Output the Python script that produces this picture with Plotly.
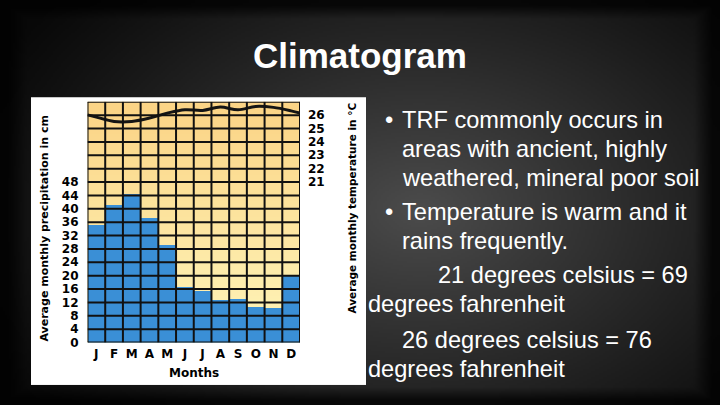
import base64
import struct
import zlib

import numpy as np
import plotly.graph_objects as go

# ---------------- data ----------------
months = ["J", "F", "M", "A", "M", "J", "J", "A", "S", "O", "N", "D"]
precip_cm = [35.2, 41.0, 44.3, 37.3, 29.2, 16.7, 15.3, 12.8, 13.0, 10.5, 10.2, 20.2]
temp_c = [25.85, 25.53, 25.53, 25.78, 26.15, 26.40, 26.35, 26.60, 26.40, 26.65, 26.58, 26.32]
temp_jan_start_c = 26.02
temp_dec_end_c = 26.15
precip_ticks = [0, 4, 8, 12, 16, 20, 24, 28, 32, 36, 40, 44, 48]
temp_ticks = [21, 22, 23, 24, 25, 26]

title_text = "Climatogram"
body_lines = [
    ("•", 383, 119.5),
    ("TRF commonly occurs in", 400, 119.5),
    ("areas with ancient, highly", 400, 148.5),
    ("weathered, mineral poor soil", 400, 178),
    ("•", 383, 211),
    ("Temperature is warm and it", 400, 211),
    ("rains frequently.", 400, 240),
    ("21 degrees celsius = 69", 436, 274),
    ("degrees fahrenheit", 366, 303.5),
    ("26 degrees celsius = 76", 400, 339),
    ("degrees fahrenheit", 366, 368),
]

W, H = 720, 405          # reference picture size (layout positions are read in these pixels)
FIG_H = 413              # page is photographed slightly squeezed vertically
PX0, PX1 = 87.5, 300.0
PY_TOP, PY_BOT = 101.5, 341.7
P_MAX = 72
T_MIN, T_MAX = 9, 27


def px(x):
    return x / W


def py(y):
    return 1 - y / H


def png_data_uri(rgb):
    h, w, _ = rgb.shape
    raw = b"".join(b"\x00" + rgb[i].tobytes() for i in range(h))

    def chunk(t, d):
        c = struct.pack(">I", len(d)) + t + d
        return c + struct.pack(">I", zlib.crc32(t + d) & 0xFFFFFFFF)

    png = (b"\x89PNG\r\n\x1a\n"
           + chunk(b"IHDR", struct.pack(">IIBBBBB", w, h, 8, 2, 0, 0, 0))
           + chunk(b"IDAT", zlib.compress(raw, 9))
           + chunk(b"IEND", b""))
    return "data:image/png;base64," + base64.b64encode(png).decode()


# slide background: dark radial gradient
gw, gh = 360, 203
gx, gy = np.meshgrid(np.linspace(0, W, gw), np.linspace(0, H, gh))
d = np.sqrt(((gx - 420) / 480.0) ** 2 + ((gy - 210) / 330.0) ** 2)
v = 8 + 68 * np.clip(1 - d, 0, 1) ** 1.1
edge = np.minimum.reduce([gx, W - gx, gy * 1.4, (H - gy) * 1.4])
v = v * np.clip(edge / 25.0, 0.25, 1)
slide_img = np.clip(np.stack([v, v, v], axis=-1), 0, 255).astype(np.uint8)

white_img = np.full((2, 2, 3), 255, dtype=np.uint8)

# plot area: orange (top) to pale yellow (bottom)
top_rgb = np.array([251, 212, 134], dtype=float)
bot_rgb = np.array([255, 246, 186], dtype=float)
t = np.linspace(0, 1, 64)[:, None]
grad = (top_rgb * (1 - t) + bot_rgb * t)
grad_img = np.repeat(grad[:, None, :], 2, axis=1).astype(np.uint8)

images = [
    dict(source=png_data_uri(slide_img), xref="paper", yref="paper", x=0, y=1,
         sizex=1, sizey=1, sizing="stretch", xanchor="left", yanchor="top", layer="below"),
    dict(source=png_data_uri(white_img), xref="paper", yref="paper", x=px(31), y=py(97),
         sizex=px(366) - px(31), sizey=py(97) - py(384), sizing="stretch",
         xanchor="left", yanchor="top", layer="below"),
    dict(source=png_data_uri(grad_img), xref="paper", yref="paper", x=px(PX0), y=py(PY_TOP),
         sizex=px(PX1) - px(PX0), sizey=py(PY_TOP) - py(PY_BOT), sizing="stretch",
         xanchor="left", yanchor="top", layer="below"),
]

# ---------------- figure ----------------
idx = list(range(len(months)))
x_lo, x_hi = -0.5, len(months) - 0.5

fig = go.Figure()

fig.add_trace(go.Bar(
    x=idx, y=precip_cm, width=1.0,
    marker=dict(color="#3a8fd6", line=dict(width=0)),
    showlegend=False,
))

temp_x = [x_lo] + idx + [x_hi]
temp_y = [temp_jan_start_c] + temp_c + [temp_dec_end_c]
fig.add_trace(go.Scatter(
    x=temp_x, y=temp_y, yaxis="y2", mode="lines",
    line=dict(color="#141414", width=3, shape="spline", smoothing=1.0),
    showlegend=False,
))

# grid drawn above the bars
shapes = []
for i in range(len(months) + 1):
    xv = x_lo + i
    shapes.append(dict(type="line", xref="x", yref="y", x0=xv, x1=xv, y0=0, y1=P_MAX,
                       line=dict(color="#111111", width=2), layer="above"))
for yv in range(0, P_MAX + 1, 4):
    shapes.append(dict(type="line", xref="x", yref="y", x0=x_lo, x1=x_hi, y0=yv, y1=yv,
                       line=dict(color="#111111", width=2), layer="above"))

tick_font = dict(family="DejaVu Sans", size=12, color="black", weight="bold")

annotations = []
annotations.append(dict(text=title_text, x=0.5, y=py(55), xref="paper", yref="paper",
                        showarrow=False, xanchor="center", yanchor="middle",
                        font=dict(family="Liberation Sans", size=35, color="white", weight="bold")))
for txt, xx, yy in body_lines:
    annotations.append(dict(text=txt, x=px(xx), y=py(yy), xref="paper", yref="paper",
                            showarrow=False, xanchor="left", yanchor="middle",
                            font=dict(family="Liberation Sans", size=23.6, color="white")))
annotations.append(dict(text="Months", x=px(194), y=py(372), xref="paper", yref="paper",
                        showarrow=False, xanchor="center", yanchor="middle",
                        font=dict(family="DejaVu Sans", size=12, color="black", weight="bold")))
annotations.append(dict(text="Average monthly precipitation in cm", x=px(45), y=py(228),
                        xref="paper", yref="paper", showarrow=False, textangle=-90,
                        xanchor="center", yanchor="middle",
                        font=dict(family="DejaVu Sans", size=11, color="black", weight="bold")))
annotations.append(dict(text="Average monthly temperature in °C", x=px(352), y=py(208),
                        xref="paper", yref="paper", showarrow=False, textangle=-90,
                        xanchor="center", yanchor="middle",
                        font=dict(family="DejaVu Sans", size=10.5, color="black", weight="bold")))

fig.update_layout(
    width=W, height=FIG_H,
    margin=dict(l=0, r=0, t=0, b=0),
    paper_bgcolor="#000000",
    plot_bgcolor="rgba(0,0,0,0)",
    bargap=0,
    images=images,
    shapes=shapes,
    annotations=annotations,
    xaxis=dict(domain=[px(PX0), px(PX1)], range=[x_lo, x_hi],
               tickmode="array", tickvals=idx, ticktext=months,
               showgrid=False, zeroline=False, showline=False, ticks="",
               tickfont=tick_font, ticklabelstandoff=2, fixedrange=True),
    yaxis=dict(domain=[py(PY_BOT), py(PY_TOP)], range=[0, P_MAX],
               tickmode="array", tickvals=precip_ticks,
               showgrid=False, zeroline=False, showline=False, ticks="",
               tickfont=tick_font, ticklabelstandoff=8, fixedrange=True),
    yaxis2=dict(overlaying="y", side="right", range=[T_MIN, T_MAX],
                tickmode="array", tickvals=temp_ticks,
                showgrid=False, zeroline=False, showline=False, ticks="",
                tickfont=tick_font, ticklabelstandoff=7, fixedrange=True),
)

fig.write_html(
    "out.html",
    config={"displayModeBar": False, "staticPlot": True},
    post_script=("document.body.style.margin='0';"
                 "document.body.style.background='#000000';"
                 "document.documentElement.style.overflow='hidden';"
                 "document.body.style.overflow='hidden';"),
)
